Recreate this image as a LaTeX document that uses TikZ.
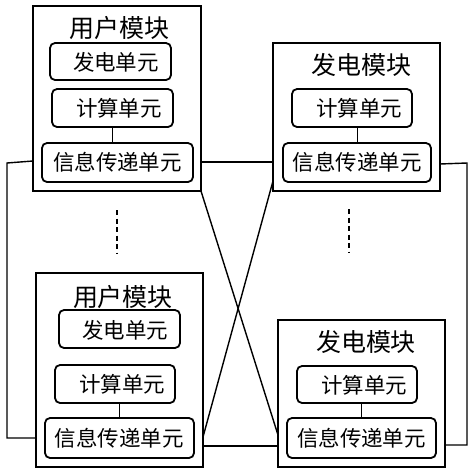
\documentclass[tikz,border=0pt]{standalone}
\usepackage{fontspec}
\newfontfamily\cjk{Noto Sans CJK SC}
\begin{document}
\begin{tikzpicture}[x=1pt,y=-1pt,
  modbox/.style={draw,line width=1.8pt,inner sep=0pt,outer sep=0pt},
  unitbox/.style={draw,line width=1.8pt,rounded corners=5pt,inner sep=0pt,outer sep=0pt},
  title/.style={font=\cjk\fontsize{25pt}{25pt}\selectfont,inner sep=0pt},
  utext/.style={font=\cjk\fontsize{21.5pt}{21.5pt}\selectfont,inner sep=0pt},
  conn/.style={line width=1.4pt},
  link/.style={line width=0.9pt},
  dots/.style={line width=1.2pt,dash pattern=on 5pt off 3.5pt}]
\useasboundingbox[fill=white] (0,0) rectangle (474,475);
% ---- top-left user module
\node[modbox,minimum width=168pt,minimum height=185pt] (tl) at (117,98.5) {};
\node[title] (tlT) at (120,28) {用户模块};
\node[unitbox,minimum width=121pt,minimum height=37pt] (tlG) at (110.5,61.5) {};
\node[utext] (tlGt) at (116,62) {发电单元};
\node[unitbox,minimum width=121pt,minimum height=38pt] (tlC) at (112.5,108) {};
\node[utext] (tlCt) at (119,108) {计算单元};
\node[unitbox,minimum width=151pt,minimum height=39pt] (tlI) at (117.5,162.5) {};
\node[utext] (tlIt) at (117.5,162) {信息传递单元};
\draw[link] (tlC.south) -- (tlC.south |- tlI.north);
% ---- top-right generator module
\node[modbox,minimum width=167pt,minimum height=148pt] (tr) at (356.5,117) {};
\node[title] (trT) at (361,65) {发电模块};
\node[unitbox,minimum width=120pt,minimum height=38pt] (trC) at (352,108) {};
\node[utext] (trCt) at (359,108) {计算单元};
\node[unitbox,minimum width=148pt,minimum height=39pt] (trI) at (357,162.5) {};
\node[utext] (trIt) at (357,162) {信息传递单元};
\draw[link] (trC.south -| trI.north) -- (trI.north);
% ---- bottom-left user module
\node[modbox,minimum width=167pt,minimum height=194pt] (bl) at (119.5,370) {};
\node[title] (blT) at (123,297) {用户模块};
\node[unitbox,minimum width=121pt,minimum height=38pt] (blG) at (119.5,329) {};
\node[utext] (blGt) at (125,330) {发电单元};
\node[unitbox,minimum width=120pt,minimum height=38pt] (blC) at (115,384) {};
\node[utext] (blCt) at (122,384) {计算单元};
\node[unitbox,minimum width=149pt,minimum height=40pt] (blI) at (119.5,438) {};
\node[utext] (blIt) at (119.5,438) {信息传递单元};
\draw[link] (blC.south -| blI.north) -- (blI.north);
% ---- bottom-right generator module
\node[modbox,minimum width=167pt,minimum height=147pt] (br) at (361.5,393.5) {};
\node[title] (brT) at (366,342) {发电模块};
\node[unitbox,minimum width=120pt,minimum height=37pt] (brC) at (357,384.5) {};
\node[utext] (brCt) at (364,385) {计算单元};
\node[unitbox,minimum width=149pt,minimum height=40pt] (brI) at (361.5,438) {};
\node[utext] (brIt) at (361.5,438) {信息传递单元};
\draw[link] (brC.south -| brI.north) -- (brI.north);
% ---- connector points
\coordinate (pTLl) at (33,161);
\coordinate (bendA) at (7,163);
\coordinate (bendB) at (7,438);
\coordinate (pBLl) at (36,438);
\coordinate (pTLr) at (201,162);
\coordinate (pTRl) at (273,162);
\coordinate (pTRb) at (273,181);
\coordinate (pBLr) at (203,437);
\coordinate (pBRl) at (278,435);
\coordinate (pBLr2) at (203,446);
\coordinate (pBRl2) at (278,446);
\coordinate (pTRr) at (440,164);
\coordinate (bendC) at (467,163);
\coordinate (bendD) at (467,445);
\coordinate (pBRr) at (445,445);
\draw[conn] (pTLl) -- (bendA) -- (bendB) -- (pBLl);
\draw[conn] (pTLr) -- (pTRl);
\draw[conn] (tl.south east) -- (pBRl);
\draw[conn] (pTRb) -- (pBLr);
\draw[conn] (pBLr2) -- (pBRl2);
\draw[conn] (pTRr) -- (bendC) -- (bendD) -- (pBRr);
% ---- ellipsis dashes
\coordinate (d1a) at (117,210);
\coordinate (d1b) at (117,253);
\coordinate (d2a) at (349,209);
\coordinate (d2b) at (349,253);
\draw[dots] (d1a) -- (d1b);
\draw[dots] (d2a) -- (d2b);
\end{tikzpicture}
\end{document}
